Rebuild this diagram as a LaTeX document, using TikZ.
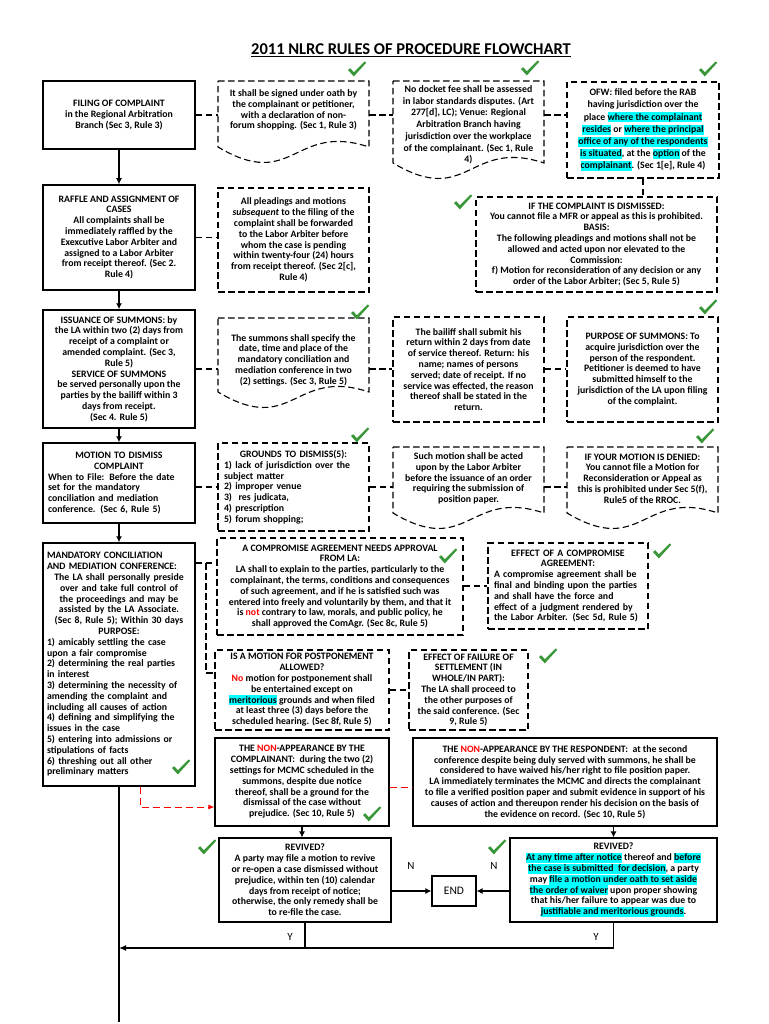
\documentclass[tikz,border=0pt]{standalone}
\usepackage{fontspec}
\setmainfont{Carlito}
\usetikzlibrary{arrows.meta,calc}
\definecolor{tickgreen}{RGB}{56,150,56}
\definecolor{hlcyan}{RGB}{0,255,255}
\definecolor{ndred}{RGB}{255,0,0}
\newcommand\hlc[1]{{\setlength\fboxsep{0pt}\colorbox{hlcyan}{\rule[-2.3pt]{0pt}{10pt}#1}}}
\newcommand\rdt[1]{\textcolor{ndred}{#1}}
\newcommand\bxfont{\fontsize{9.8}{10.8}\selectfont\bfseries}
\newcommand\bxfontw{\fontsize{9.8}{12.2}\selectfont\bfseries}
\newcommand\bxfontm{\fontsize{9.8}{11.7}\selectfont\bfseries}
\newcommand\jl[1]{\makebox[\hsize][s]{#1}}
\newcommand\docshape[3]{\draw[dsh] ($(#1.center)+(-75.5,-#2)$) -- ($(#1.center)+(75.5,-#2)$) -- ($(#1.center)+(75.5,#3)$) .. controls ($(#1.center)+(0,#3-25)$) and ($(#1.center)+(0,#3+45)$) .. ($(#1.center)+(-75.5,#3)$) -- cycle;}
\tikzset{chk/.pic={\fill[tickgreen] (-9,0) -- (-6.8,-1.8) -- (-3.2,2.2) -- (7.6,-8.6) -- (9.2,-7.2) -- (-3.2,6.4) -- cycle;}}
\begin{document}
\begin{tikzpicture}[x=1pt,y=-1pt,
  base/.style={inner sep=0pt, align=center, font=\bxfont},
  solidbox/.style={base, draw, line width=1.5pt},
  thinbox/.style={base, draw, line width=1.1pt},
  dsh/.style={line width=1.1pt, dash pattern=on 6.5pt off 3.5pt},
  dbox/.style={base, draw, dsh},
  rdsh/.style={line width=1pt, draw=ndred, dash pattern=on 7pt off 4pt},
  arr/.style={line width=1.5pt, -{Latex[length=6pt,width=6pt]}},
  arrt/.style={line width=1.2pt, -{Latex[length=6pt,width=6pt]}},
  lbl/.style={inner sep=0pt, font=\fontsize{11}{13}\selectfont}
]
\fill[white] (0,0) rectangle (768,1024);
\useasboundingbox (0,0) rectangle (768,1024);

\node[base, font=\fontsize{16.5}{18}\selectfont\bfseries] (title) at (411,50) {\underline{2011 NLRC RULES OF PROCEDURE FLOWCHART}};

% left column
\node[solidbox, minimum width=152, minimum height=68] (A1) at (119,115) {FILING OF COMPLAINT\\in the Regional Arbitration\\Branch (Sec 3, Rule 3)};
\node[solidbox, minimum width=152, minimum height=105] (A2) at (119,237.5) {RAFFLE AND ASSIGNMENT OF\\CASES\\All complaints shall be\\immediately raffled by the\\Exexcutive Labor Arbiter and\\assigned to a Labor Arbiter\\from receipt thereof. (Sec 2.\\Rule 4)};
\node[solidbox, minimum width=152, minimum height=118] (A3) at (119,369) {ISSUANCE OF SUMMONS: by\\the LA within two (2) days from\\receipt of a complaint or\\amended complaint. (Sec 3,\\Rule 5)\\SERVICE OF SUMMONS\\be served personally upon the\\parties by the bailiff within 3\\days from receipt.\\(Sec 4. Rule 5)};
\node[solidbox, minimum width=152, minimum height=80, text width=142, align=left] (A4) at (119,483) {{\centering MOTION TO DISMISS\\COMPLAINT\par}\jl{When to File: Before the date}\\\jl{set for the mandatory}\\\jl{conciliation and mediation}\\conference. (Sec 6, Rule 5)};
\node[solidbox, minimum width=152, minimum height=243, text width=144, align=left] (A5) at (119,664.5) {\jl{MANDATORY CONCILIATION}\\AND MEDIATION CONFERENCE:\\{\centering The LA shall personally preside\\over and take full control of\\the proceedings and may be\\assisted by the LA Associate.\\(Sec 8, Rule 5); Within 30 days\\PURPOSE:\par}1) amicably settling the case\\upon a fair compromise\\2) determining the real parties\\in interest\\3) determining the necessity of\\amending the complaint and\\including all causes of action\\4) defining and simplifying the\\issues in the case\\5) entering into admissions or\\stipulations of facts\\6) threshing out all other\\preliminary matters};

% row 1
\node[base, minimum width=151] (B1) at (293.5,110) {It shall be signed under oath by\\the complainant or petitioner,\\with a declaration of non-\\forum shopping. (Sec 1, Rule 3)};
\docshape{B1}{29}{37}
\node[base, minimum width=151, font=\bxfontm] (B2) at (468.5,125) {No docket fee shall be assessed\\in labor standards disputes. (Art\\277[d], LC); Venue: Regional\\Arbitration Branch having\\jurisdiction over the workplace\\of the complainant. (Sec 1, Rule\\4)};
\docshape{B2}{44}{38}
\node[dbox, minimum width=152, minimum height=96, font=\bxfontw] (OFW) at (643,130) {OFW: filed before the RAB\\having jurisdiction over the\\place \hlc{where the complainant}\\\hlc{resides} or \hlc{where the principal}\\\hlc{office of any of the respondents}\\\hlc{is situated}, at the \hlc{option} of the\\\hlc{complainant}. (Sec 1[e], Rule 4)};

% row 2
\node[dbox, minimum width=151, minimum height=104] (B3) at (293.5,240) {All pleadings and motions\\\textit{subsequent} to the filing of the\\complaint shall be forwarded\\to the Labor Arbiter before\\whom the case is pending\\within twenty-four (24) hours\\from receipt thereof. (Sec 2[c],\\Rule 4)};
\node[dbox, minimum width=241, minimum height=95] (C) at (596.5,244.5) {IF THE COMPLAINT IS DISMISSED:\\You cannot file a MFR or appeal as this is prohibited.\\BASIS:\\The following pleadings and motions shall not be\\allowed and acted upon nor elevated to the\\Commission:\\f) Motion for reconsideration of any decision or any\\order of the Labor Arbiter; (Sec 5, Rule 5)};

% row 3
\node[base, minimum width=151] (B4) at (293.5,360) {The summons shall specify the\\date, time and place of the\\mandatory conciliation and\\mediation conference in two\\(2) settings. (Sec 3, Rule 5)};
\docshape{B4}{42}{32}
\node[dbox, minimum width=151, minimum height=105] (B5) at (468.5,369.5) {The bailiff shall submit his\\return within 2 days from date\\of service thereof. Return: his\\name; names of persons\\served; date of receipt. If no\\service was effected, the reason\\thereof shall be stated in the\\return.};
\node[dbox, minimum width=151, minimum height=105] (B6) at (642.5,369.5) {PURPOSE OF SUMMONS: To\\acquire jurisdiction over the\\person of the respondent.\\Petitioner is deemed to have\\submitted himself to the\\jurisdiction of the LA upon filing\\of the complaint.};

% row 4
\node[dbox, minimum width=151, minimum height=88, text width=139, align=left] (B7) at (293.5,487) {{\centering GROUNDS TO DISMISS(5):\par}1) lack of jurisdiction over the\\subject matter\\2) improper venue\\3)\ \ res judicata,\\4) prescription\\5) forum shopping;};
\node[base, minimum width=151] (B8) at (468.5,478.5) {Such motion shall be acted\\upon by the Labor Arbiter\\before the issuance of an order\\requiring the submission of\\position paper.};
\docshape{B8}{31.5}{34.5}
\node[base, minimum width=151] (B9) at (642.5,478.5) {IF YOUR MOTION IS DENIED:\\You cannot file a Motion for\\Reconsideration or Appeal as\\this is prohibited under Sec 5(f),\\Rule5 of the RROC.};
\docshape{B9}{31.5}{34.5}

% row 5
\node[dbox, minimum width=246, minimum height=97] (D1) at (340,586.5) {A COMPROMISE AGREEMENT NEEDS APPROVAL\\FROM LA:\\LA shall to explain to the parties, particularly to the\\complainant, the terms, conditions and consequences\\of such agreement, and if he is satisfied such was\\entered into freely and voluntarily by them, and that it\\is \rdt{not} contrary to law, morals, and public policy, he\\shall approved the ComAgr. (Sec 8c, Rule 5)};
\node[dbox, minimum width=160, minimum height=86, text width=148, align=left] (D2) at (568,586) {{\centering EFFECT OF A COMPROMISE\\AGREEMENT:\par}\jl{A compromise agreement shall be}\\\jl{final and binding upon the parties}\\\jl{and shall have the force and}\\\jl{effect of a judgment rendered by}\\the Labor Arbiter. (Sec 5d, Rule 5)};

% row 6
\node[dbox, minimum width=174, minimum height=80] (E1) at (302,690) {IS A MOTION FOR POSTPONEMENT\\ALLOWED?\\\rdt{No} motion for postponement shall\\be entertained except on\\\hlc{meritorious} grounds and when filed\\at least three (3) days before the\\scheduled hearing. (Sec 8f, Rule 5)};
\node[dbox, minimum width=119, minimum height=80] (E2) at (468.5,690) {EFFECT OF FAILURE OF\\SETTLEMENT (IN\\WHOLE/IN PART):\\The LA shall proceed to\\the other purposes of\\the said conference. (Sec\\9, Rule 5)};

% row 7
\node[thinbox, minimum width=174, minimum height=88] (F1) at (302,782) {THE \rdt{NON}-APPEARANCE BY THE\\COMPLAINANT:~ during the two (2)\\settings for MCMC scheduled in the\\summons, despite due notice\\thereof, shall be a ground for the\\dismissal of the case without\\prejudice. (Sec 10, Rule 5)};
\node[thinbox, minimum width=304, minimum height=88] (F2) at (565,782) {THE \rdt{NON}-APPEARANCE BY THE RESPONDENT:~ at the second\\conference despite being duly served with summons, he shall be\\considered to have waived his/her right to file position paper.\\LA immediately terminates the MCMC and directs the complainant\\to file a verified position paper and submit evidence in support of his\\causes of action and thereupon render his decision on the basis of\\the evidence on record. (Sec 10, Rule 5)};

% row 8
\node[thinbox, minimum width=172, minimum height=84] (G1) at (305,880) {REVIVED?\\A party may file a motion to revive\\or re-open a case dismissed without\\prejudice, within ten (10) calendar\\days from receipt of notice;\\otherwise, the only remedy shall be\\to re-file the case.};
\node[thinbox, minimum width=207, minimum height=84] (G2) at (613.5,880) {REVIVED?\\\hlc{At any time after notice} thereof and \hlc{before}\\\hlc{the case is submitted\ \ for decision}, a party\\may \hlc{file a motion under oath to set aside}\\\hlc{the order of waiver} upon proper showing\\that his/her failure to appear was due to\\\hlc{justifiable and meritorious grounds}.};
\node[thinbox, minimum width=44, minimum height=30, font=\fontsize{11.5}{13}\selectfont] (END) at (454,891) {END};

\node[lbl] (N1) at (411,866) {N};
\node[lbl] (N2) at (494,866) {N};
\node[lbl] (Y1) at (290,937) {Y};
\node[lbl] (Y2) at (596,937) {Y};

% main arrows
\draw[arr] (A1.south) -- (A2.north);
\draw[arr] (A2.south) -- (A3.north);
\draw[arr] (A3.south) -- (A4.north);
\draw[arr] (A4.south) -- (A5.north);

% dashed connectors
\draw[dsh] (A1.east) -- (A1.east -| B1.west);
\draw[dsh] (A1.east -| B1.east) -- (A1.east -| B2.west);
\draw[dsh] (A1.east -| B2.east) -- (A1.east -| OFW.west);
\draw[dsh] (OFW.south) -- (OFW.south |- C.north);
\draw[dsh] (A2.east) -- (A2.east -| B3.west);
\draw[dsh] (A3.east) -- (A3.east -| B4.west);
\draw[dsh] (A3.east -| B4.east) -- (A3.east -| B5.west);
\draw[dsh] (A3.east -| B5.east) -- (A3.east -| B6.west);
\draw[dsh] (A4.east |- B7.west) -- (B7.west);
\draw[dsh] (B7.east) -- (B7.east -| B8.west);
\draw[dsh] (B7.east -| B8.east) -- (B7.east -| B9.west);
\coordinate (J) at (206,563);
\draw[dsh] (A5.east |- J) -- (D1.west |- J);
\draw[dsh] (J) |- ([yshift=17pt]E1.west);
\draw[dsh] (D1.east |- D2.west) -- (D2.west);
\draw[dsh] (E1.east) -- (E1.east -| E2.west);

% red dashed
\draw[rdsh, -{Latex[length=6pt,width=5pt]}, ndred] ([xshift=21pt]A5.south) |- ([yshift=-25pt]F1.west);
\draw[rdsh] ([yshift=-5pt]F1.east) -- ([yshift=-5pt]F1.east -| F2.west);

% lower arrows
\draw[arrt] (F1.south) -- (F1.south |- G1.north);
\draw[arrt] (G2.north |- F2.south) -- (G2.north);
\draw[arrt] (G1.east |- END.west) -- (END.west);
\draw[arrt] (G2.west |- END.east) -- (END.east);

\coordinate (R) at (0,948);
\coordinate (Bot) at (0,1022);
\draw[line width=1.5pt] (A5.south) -- (A5.south |- Bot);
\draw[line width=1.3pt] (G1.south) -- (G1.south |- R);
\draw[line width=1.3pt, -{Latex[length=7pt,width=6pt]}] (G2.south) -- (G2.south |- R) -- (A5.south |- R);

% ticks
\pic at (357,70) {chk};
\pic at (530,69) {chk};
\pic at (708,70) {chk};
\pic at (463,203) {chk};
\pic at (360,313) {chk};
\pic at (708,308) {chk};
\pic at (360,436) {chk};
\pic at (705,437) {chk};
\pic at (448,557) {chk};
\pic at (662,552) {chk};
\pic at (548,657) {chk};
\pic at (181,768) {chk};
\pic at (372,815) {chk};
\pic at (207,848) {chk};
\pic at (497,848) {chk};
\end{tikzpicture}
\end{document}
